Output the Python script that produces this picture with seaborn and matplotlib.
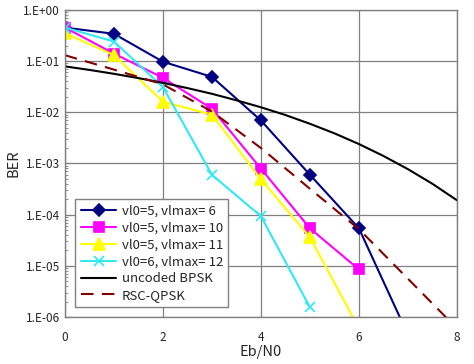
import numpy as np
import pandas as pd
import matplotlib
matplotlib.use("Agg")
import matplotlib.pyplot as plt
import matplotlib.ticker as mticker
import seaborn as sns

# values
ebn0 = [0, 1, 2, 3, 4, 5, 6, 7]
ber_vl6 = [0.45, 0.34, 0.097, 0.049, 0.0069, 6.0e-4, 5.4e-5, 4.5e-7]
ber_vl10 = [0.45, 0.14, 0.047, 0.0117, 7.9e-4, 5.4e-5, 8.5e-6]
ber_vl11 = [0.35, 0.13, 0.016, 0.0090, 4.9e-4, 3.6e-5, 6.0e-7]
ber_vl12 = [0.45, 0.24, 0.031, 6.0e-4, 9.3e-5, 1.55e-6]

bpsk_x = [0, 0.5, 1, 1.5, 2, 2.5, 3, 3.5, 4, 4.5, 5, 5.5, 6, 6.5, 7, 7.5, 8]
bpsk_ber = [0.0786, 0.0671, 0.0563, 0.0464, 0.0375, 0.0296, 0.0229, 0.0171,
            0.0125, 0.00882, 0.00595, 0.00387, 0.00239, 0.00140, 7.73e-4,
            4.0e-4, 1.91e-4]

rsc_x = [0, 1, 2, 3, 4, 5, 6, 7, 8]
rsc_ber = [0.13, 0.068, 0.035, 0.0103, 0.0020, 3.2e-4, 5.2e-5, 5.6e-6, 6.0e-7]

labels = ["vl0=5, vlmax= 6", "vl0=5, vlmax= 10", "vl0=5, vlmax= 11",
          "vl0=6, vlmax= 12", "uncoded BPSK", "RSC-QPSK"]

sns.set_style("white")
plt.rcParams['font.family'] = ['Noto Sans CJK JP', 'DejaVu Sans']

fig = plt.figure(figsize=(4.74, 3.64), dpi=100)
ax = fig.add_axes([0.137, 0.129, 0.827, 0.844])

series = [
    (ebn0[:len(ber_vl6)], ber_vl6, "#000080", "D", 6.5),
    (ebn0[:len(ber_vl10)], ber_vl10, "#FF00FF", "s", 7),
    (ebn0[:len(ber_vl11)], ber_vl11, "#FFFF00", "^", 8),
    (ebn0[:len(ber_vl12)], ber_vl12, "#33E8F0", "x", 7),
]
for (x, y, c, m, ms), lab in zip(series, labels):
    df = pd.DataFrame({"x": x, "y": y})
    sns.lineplot(data=df, x="x", y="y", ax=ax, color=c, marker=m,
                 markersize=ms, markeredgecolor=c,
                 markeredgewidth=1.2, linewidth=1.5, label=lab)

sns.lineplot(x=bpsk_x, y=bpsk_ber, ax=ax, color="black", linewidth=1.5,
             label=labels[4])
sns.lineplot(x=rsc_x, y=rsc_ber, ax=ax, color="#800000", linewidth=1.5,
             linestyle=(0, (6, 4)), label=labels[5])

ax.set_yscale("log")
ax.set_xlim(0, 8)
ax.set_ylim(1e-6, 1)
ax.set_xticks([0, 2, 4, 6, 8])
ax.set_yticks([1e0, 1e-1, 1e-2, 1e-3, 1e-4, 1e-5, 1e-6])
ax.set_yticklabels(["1.E+00", "1.E-01", "1.E-02", "1.E-03",
                    "1.E-04", "1.E-05", "1.E-06"])
ax.yaxis.set_minor_locator(mticker.LogLocator(base=10, subs=np.arange(2, 10)))
ax.yaxis.set_minor_formatter(mticker.NullFormatter())
ax.tick_params(axis="y", which="major", direction="in", length=4,
               labelsize=8.5, color="#808080", left=True)
ax.tick_params(axis="y", which="minor", direction="in", length=2.5,
               color="#808080", left=True)
ax.tick_params(axis="x", which="major", length=0, pad=10, labelsize=8.5)
ax.grid(True, which="major", color="#808080", linewidth=0.9)
for s in ax.spines.values():
    s.set_color("#808080")
    s.set_linewidth(1.0)

ax.set_xlabel("Eb/N0", fontsize=10.5, labelpad=1)
ax.set_ylabel("BER", fontsize=10.5, labelpad=2)

leg = ax.legend(loc="lower left", bbox_to_anchor=(0.01, 0.01), fontsize=9.5,
                frameon=True, fancybox=False, edgecolor="#808080",
                handlelength=2.7, borderpad=0.4, labelspacing=0.3,
                handletextpad=0.4, framealpha=1)
leg.get_frame().set_linewidth(1.0)

fig.savefig("out.png", dpi=100)
